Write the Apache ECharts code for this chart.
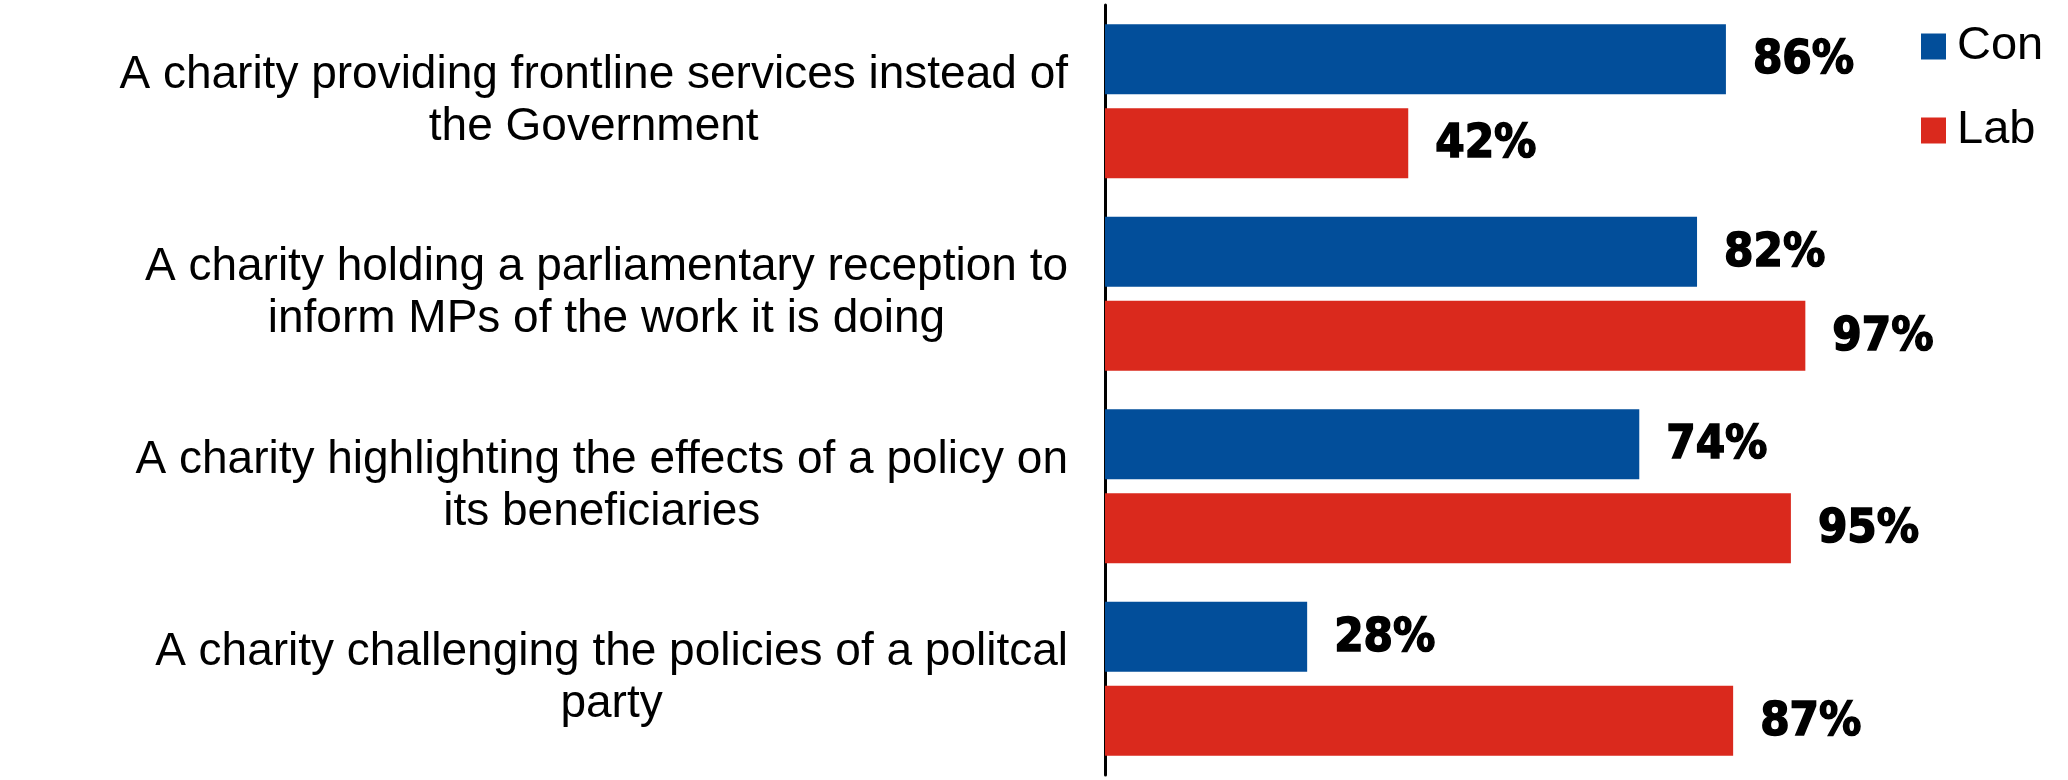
<!DOCTYPE html>
<html>
<head>
<meta charset="utf-8">
<script src="https://cdn.jsdelivr.net/npm/echarts@6/dist/echarts.min.js"></script>
<style>
html, body { margin: 0; padding: 0; background: #fff; }
#main { width: 2068px; height: 780px; }
</style>
</head>
<body>
<div id="main"></div>
<script>
var categories = [
    'A charity providing frontline services instead of\nthe Government',
    'A charity holding a parliamentary reception to\ninform MPs of the work it is doing',
    'A charity highlighting the effects of a policy on\nits beneficiaries',
    'A charity challenging the policies of a politcal\nparty'
];
var seriesNames = ['Con', 'Lab'];
var conValues = [86, 82, 74, 28];
var labValues = [42, 97, 95, 87];

var blue = '#024e9a';
var red = '#da291d';

var chart = echarts.init(document.getElementById('main'));

// heavy labels, a thin stroke of the same colour fakes an Arial Black weight
var valueLabel = {
    show: true,
    position: 'right',
    distance: 27,
    offset: [0, 2],
    formatter: '{c}%',
    color: '#000',
    textBorderColor: '#000',
    textBorderWidth: 1.5,
    fontFamily: '"DejaVu Sans Condensed", "DejaVu Sans"',
    fontWeight: 'bold',
    fontSize: 47
};

chart.setOption({
    animation: false,
    backgroundColor: '#fff',
    grid: {
        left: 1105,
        right: 241,
        top: 5,
        bottom: 5
    },
    legend: {
        data: seriesNames,
        orient: 'vertical',
        left: 1921,
        top: 23,
        padding: 0,
        icon: 'rect',
        itemWidth: 25,
        itemHeight: 26,
        itemGap: 37,
        selectedMode: false,
        textStyle: {
            color: '#000',
            fontFamily: 'Liberation Sans',
            fontSize: 47,
            padding: [0, 0, 0, 6]
        }
    },
    xAxis: {
        type: 'value',
        min: 0,
        max: 100,
        show: false,
        splitLine: { show: false }
    },
    yAxis: {
        type: 'category',
        data: categories,
        inverse: true,
        axisTick: { show: false },
        axisLine: {
            show: true,
            lineStyle: { color: '#000', width: 3 }
        },
        axisLabel: {
            margin: 37,
            formatter: function (value) {
                return value.split('\n').map(function (line) {
                    return '{c|' + line + '}';
                }).join('\n');
            },
            rich: {
                c: {
                    align: 'center',
                    color: '#000',
                    fontFamily: 'Liberation Sans',
                    fontSize: 46,
                    lineHeight: 52
                }
            }
        }
    },
    series: [{
        name: 'Con',
        type: 'bar',
        data: conValues,
        barWidth: 70,
        barGap: '20%',
        itemStyle: { color: blue },
        label: valueLabel
    }, {
        name: 'Lab',
        type: 'bar',
        data: labValues,
        barWidth: 70,
        barGap: '20%',
        itemStyle: { color: red },
        label: valueLabel
    }]
});
</script>
</body>
</html>
